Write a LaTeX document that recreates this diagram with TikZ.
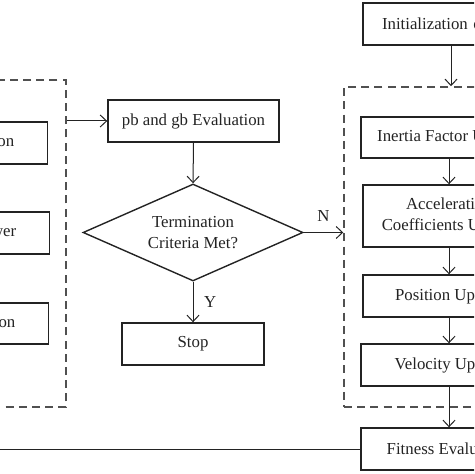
\documentclass[tikz,border=0pt]{standalone}
\usepackage{fontspec}
\setmainfont{Liberation Serif}
\usetikzlibrary{arrows.meta,shapes.geometric,positioning}
\definecolor{fg}{RGB}{35,35,35}
\definecolor{mu}{RGB}{80,80,80}
\tikzset{
  every picture/.style={fg, line width=0.7pt, line join=miter,
    >={Straight Barb[length=3.2pt,width=6pt]}},
  every node/.style={font=\fontsize{8.4}{10.5}\selectfont},
  % boxes
  box/.style={draw, rectangle, minimum height=21pt, inner sep=0pt, align=center},
  lbox/.style={box, anchor=east, text width=47pt, inner xsep=16.5pt, align=right},
  dec/.style={draw, diamond, aspect=2.27, minimum width=110pt, minimum height=48.5pt,
    inner sep=0pt, align=center},
  % dashed groups
  grp/.style={draw=mu, rectangle, inner sep=0pt, line width=0.75pt,
    dash pattern=on 4pt off 2.6pt},
  % connectors
  arr/.style={->, line width=0.5pt},
  link/.style={line width=0.5pt},
}
\begin{document}
\begin{tikzpicture}[x=0.5pt, y=-0.5pt]
  \useasboundingbox (0,0) rectangle (474,474);
  \clip (0,0) rectangle (474,474);

  % dashed groups
  \node[grp, minimum width=50pt, minimum height=163.5pt] (lgrp) at (16,243.5) {};
  \node[grp, minimum width=88pt, minimum height=160pt] (rgrp) at (432,247) {};

  % left column (cut at the edge)
  \node[lbox, minimum height=21pt] (calc) at (48,143) {on};
  \node[lbox, minimum height=21pt] (pow) at (50,233) {wer};
  \node[lbox, minimum height=20.5pt] (func) at (49,323.5) {on};

  % middle column
  \node[box, minimum width=85.5pt] (pb) at (193.5,121) {pb and gb Evaluation};
  \node[dec] (crit) at (193,232.5) {Termination\\Criteria Met?};
  \node[box, minimum width=71pt] (stop) at (193,344) {Stop};

  % right column
  \node[box, minimum width=88pt, text width=69pt, inner xsep=9.5pt, align=left]
    (init) at (451,24) {Initialization of};
  \node[box, minimum width=88pt, minimum height=20.5pt] (inert) at (449,137.5) {Inertia Factor Update};
  \node[box, minimum width=86pt, minimum height=31pt] (acc) at (449,216) {Acceleration\\Coefficients Update};
  \node[box, minimum width=86pt] (posu) at (449,296) {Position Update};
  \node[box, minimum width=88pt] (velu) at (449,365) {Velocity Update};
  \node[box, minimum width=88pt] (fit) at (449,449) {Fitness Evaluation};
  \coordinate (fend) at (-10,449);

  % connectors
  \draw[arr] (pb.west -| lgrp.east) -- (pb.west);
  \draw[arr] (pb.south) -- (crit.north);
  \draw[arr] (crit.south) -- node[right=2pt] {Y} (stop.north);
  \draw[arr] (crit.east) -- node[above=2pt] {N} (crit.east -| rgrp.west);
  \draw[arr] (init.south) -- (init.south |- rgrp.north);
  \draw[arr] (inert.south) -- (acc.north);
  \draw[arr] (acc.south) -- (posu.north);
  \draw[arr] (posu.south) -- (velu.north);
  \draw[arr] (velu.south) -- (fit.north);
  \draw[link] (fit.west) -- (fend);
\end{tikzpicture}
\end{document}
